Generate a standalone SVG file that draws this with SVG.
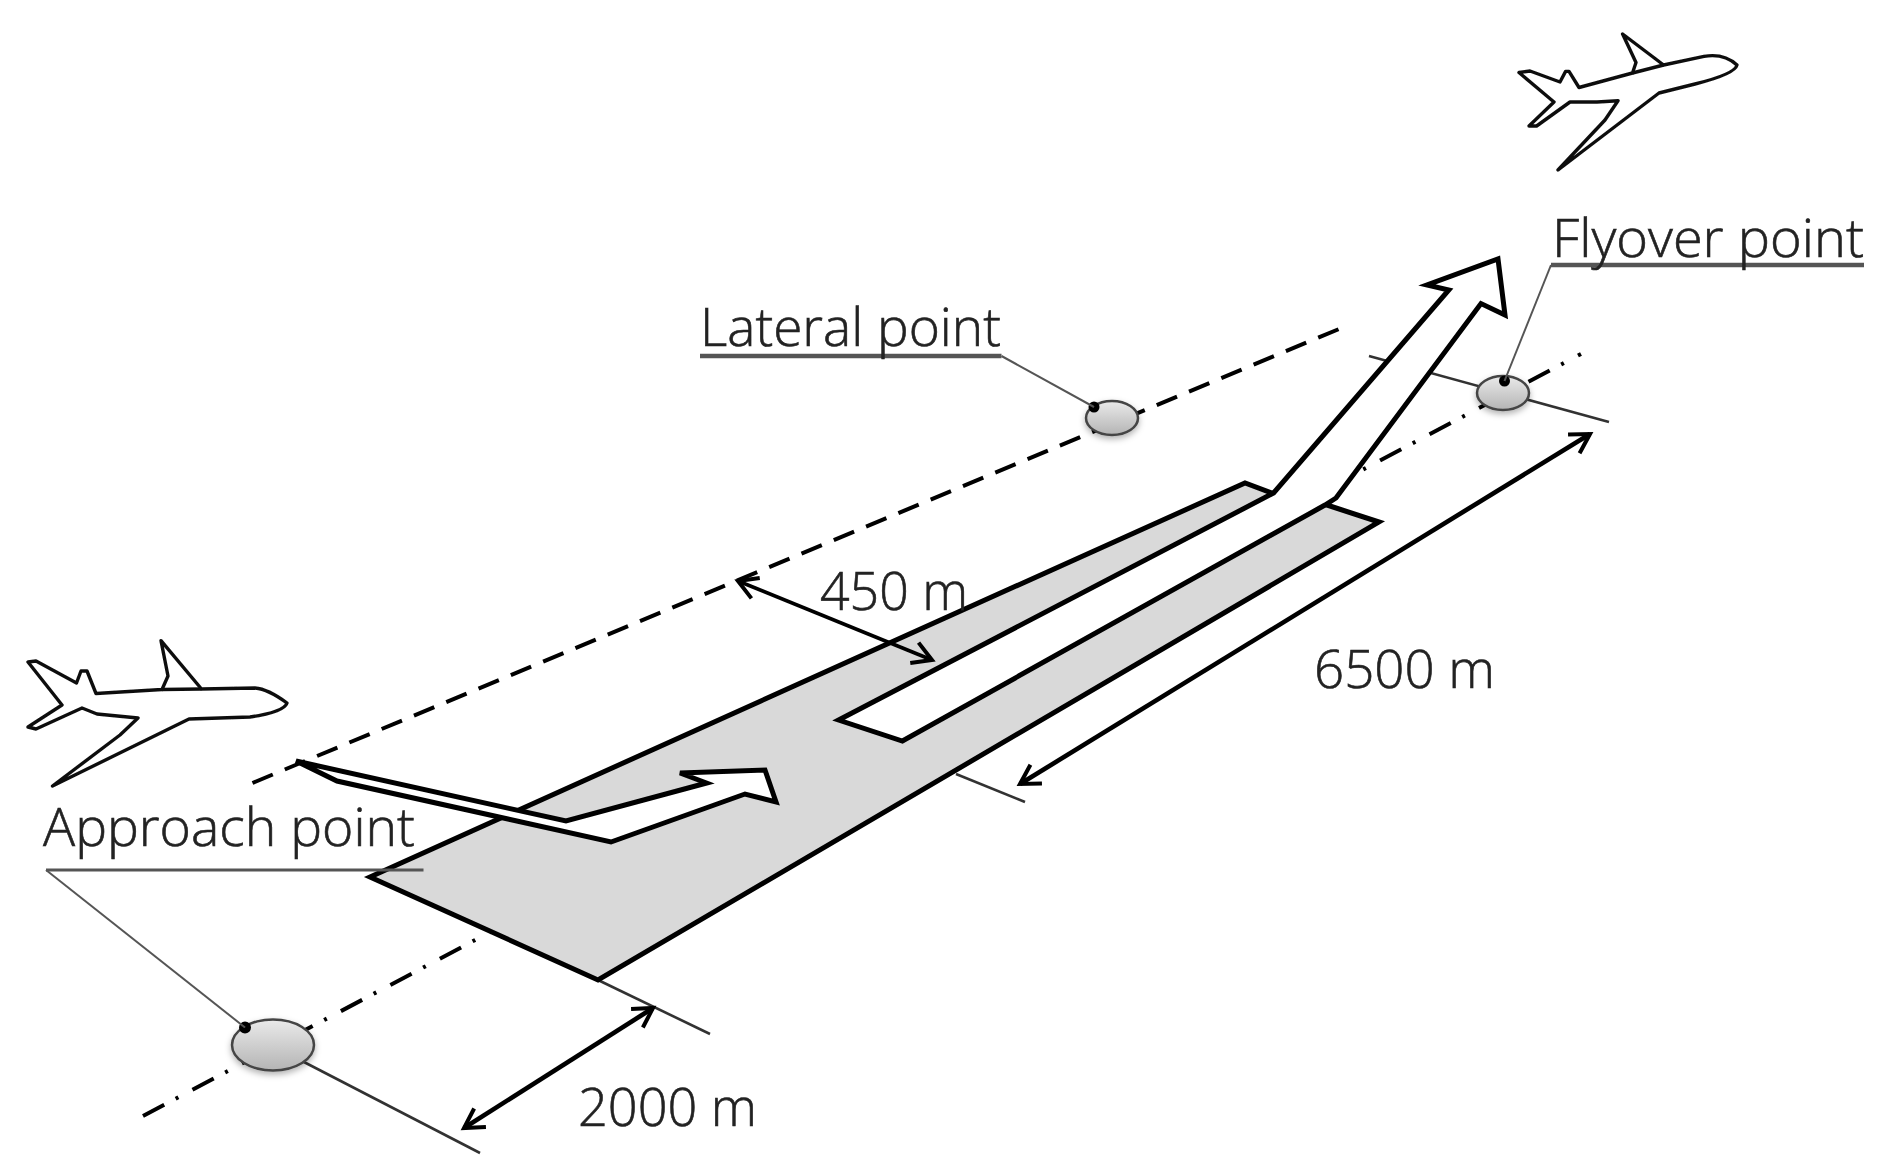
<svg xmlns="http://www.w3.org/2000/svg" width="1899" height="1168" viewBox="0 0 1899 1168">
<style>
text{font-family:"Open Sans","Noto Sans","Liberation Sans",sans-serif;font-size:54px;font-weight:300;fill:#222;stroke:#222;stroke-width:0.6}
.plane{fill:#fff;stroke:#111;stroke-width:3.4;stroke-linejoin:round}
.area{fill:#d9d9d9;stroke:#000;stroke-width:5;stroke-linejoin:miter}
.white{fill:#fff;stroke:#000;stroke-width:5;stroke-linejoin:miter}
.thin{fill:none;stroke:#333;stroke-width:2.6}
.lead{fill:none;stroke:#555;stroke-width:2}
.under{fill:none;stroke:#555;stroke-width:4.5}
.under2{fill:none;stroke:#555;stroke-width:3}
.dash{fill:none;stroke:#000;stroke-width:4}
.dim{fill:none;stroke:#000;stroke-width:4.6;marker-start:url(#v);marker-end:url(#v)}
.dim2{fill:none;stroke:#000;stroke-width:3.6;marker-start:url(#v);marker-end:url(#v)}
.pt{fill:url(#g);stroke:#444;stroke-width:2.5;filter:url(#s)}
</style>
<defs>
<linearGradient id="g" x1="0" y1="0" x2="0" y2="1"><stop offset="0" stop-color="#eaeaea"/><stop offset="1" stop-color="#b4b4b4"/></linearGradient>
<filter id="s" x="-20%" y="-20%" width="140%" height="150%"><feDropShadow dx="0" dy="3" stdDeviation="3" flood-color="#000" flood-opacity="0.3"/></filter>
<filter id="b" x="0" y="0" width="100%" height="100%" filterUnits="userSpaceOnUse"><feGaussianBlur stdDeviation="0.7"/></filter>
<marker id="v" markerUnits="userSpaceOnUse" markerWidth="40" markerHeight="40" refX="22" refY="20" orient="auto-start-reverse" viewBox="0 0 40 40"><path d="M3,9 L22,20 L3,31" fill="none" stroke="#000" stroke-width="4"/></marker>
</defs>
<rect width="1899" height="1168" fill="#fff"/>
<g filter="url(#b)">
<g id="connectors-back">
<path class="dash" stroke-dasharray="22 13" d="M252.500,783 L1340,328.600"/>
<path class="dash" stroke-dasharray="24 13 3 16" d="M143,1116 L1581,354"/>
<path class="thin" d="M598,980 L710,1034"/>
<path class="thin" d="M273,1046 L480,1153"/>
<path class="thin" d="M1369,356 L1609,422"/>
<path class="thin" d="M956,774 L1025,802"/>
</g>
<g id="runway"><polygon class="area" points="370,877 1245,483 1272,493 1327,505 1379,522 598,980"/></g>
<g id="strip-arrow"><polygon class="white" points="838.600,720 1273.600,493 1448.800,290 1427,285 1498,259 1505,315 1481,303.600 1336,498 1325,505 902.400,741"/></g>
<g id="approach-arrow"><polygon class="white" points="296,761 566,821 706.600,783 680,773 765,770 776,802 745,794 611,842 337,781"/></g>
<g id="plane-left"><path class="plane" d="M28,662 L36,661 L76.500,683 L81,671 L87,671 L96,693.500 L162,689.500 L168,676 L161,640.600 L201.500,689 L255,688 Q268,689 287,703 Q284,712 250,717 L189,719 L52.500,786 L120,735 L138,718 L97,714 L82,708 L36,729 L28,727 L62,705 Z"/><path class="plane" fill="none" d="M162,689.500 L201.500,689"/></g>
<g id="plane-right"><path class="plane" d="M1519,72.500 L1530,71 L1560,82 L1565.600,71.400 L1569,71.400 L1579,87.500 L1632.500,73 L1636,62.500 L1622.600,34 L1663.600,65 L1704,56.400 Q1724,53 1737,65 Q1735,74 1695,84 L1659,93 L1558,170 L1605,120 L1618,100.700 L1597,102 L1570,102 L1536.600,126 L1529,126 L1554,102 Z"/><path class="plane" fill="none" d="M1632.500,73 L1663.600,65"/></g>
<g id="point-lateral"><ellipse class="pt" cx="1112" cy="418" rx="26" ry="17"/><circle cx="1094" cy="407" r="5.500" fill="#000"/></g>
<g id="point-flyover"><ellipse class="pt" cx="1503" cy="393" rx="26" ry="17"/><circle cx="1504.500" cy="381" r="5.500" fill="#000"/></g>
<g id="point-approach"><ellipse class="pt" cx="273" cy="1045" rx="41" ry="25.500"/><circle cx="245" cy="1027.500" r="6" fill="#000"/></g>
<g id="connectors">
<path class="dim" d="M1020,784 L1590,434"/>
<path class="dim" d="M464,1128 L653,1008"/>
<path class="dim2" d="M738,581 L932,660"/>
<path class="lead" d="M46,870 L245,1027.500"/>
<path class="under2" d="M46,870 L423.500,870"/>
<path class="lead" d="M1001.500,356 L1094,407"/>
<path class="under" d="M700,356 L1001.500,356"/>
<path class="lead" d="M1551,265 L1504.500,381"/>
<path class="under" d="M1551,265 L1864,265"/>
</g>
<g id="labels">
<text x="43" y="846" textLength="372" lengthAdjust="spacingAndGlyphs">Approach point</text>
<text x="700" y="346" textLength="301" lengthAdjust="spacingAndGlyphs">Lateral point</text>
<text x="1552" y="257" textLength="312" lengthAdjust="spacingAndGlyphs">Flyover point</text>
<text x="820" y="610" textLength="148" lengthAdjust="spacingAndGlyphs">450 m</text>
<text x="1314" y="688" textLength="181" lengthAdjust="spacingAndGlyphs">6500 m</text>
<text x="578" y="1126" textLength="179" lengthAdjust="spacingAndGlyphs">2000 m</text>
</g>
</g>
</svg>
